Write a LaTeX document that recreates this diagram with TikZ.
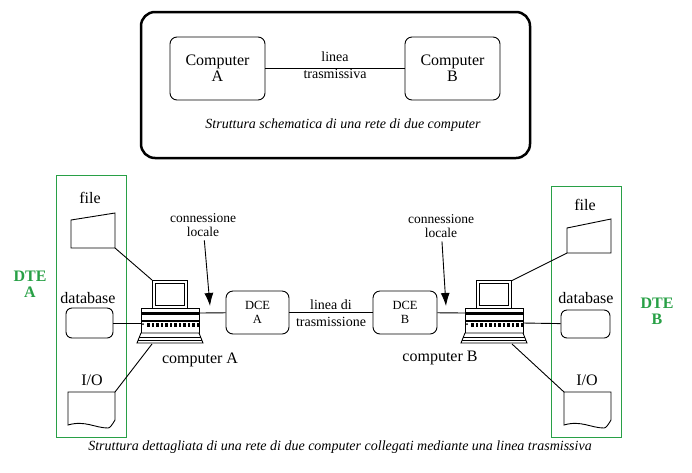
\documentclass[tikz,border=0pt]{standalone}
\usepackage{fontspec}
\setmainfont{Liberation Serif}
\usetikzlibrary{arrows.meta}
\definecolor{gr}{RGB}{40,160,70}
\begin{document}
\begin{tikzpicture}[x=1pt,y=-1pt,line width=0.9pt,
  box/.style={draw,rounded corners=7pt,line width=0.9pt},
  green/.style={draw=gr,line width=0.9pt},
  dte/.style={text=gr,font=\bfseries\fontsize{16}{16}\selectfont,align=center},
  lbl/.style={font=\fontsize{16}{16}\selectfont,align=center},
  sm/.style={font=\fontsize{13.5}{14}\selectfont,align=center},
  capt/.style={font=\itshape\fontsize{14}{14}\selectfont},
  comp/.pic={
    \draw[fill=white] (-19,-25) rectangle (16,3);
    \draw (-16,-22) rectangle (13,0);
    \draw[fill=white] (-30,3) rectangle (28,28);
    \fill (-30,7) rectangle (28,10);
    \fill (-30,15) rectangle (28,17);
    \foreach \i in {0,...,11} \fill (-24+\i*4.5,18) rectangle ++(2.5,4);
    \fill (-28,19) circle (1);
    \draw[fill=white] (-30,28) -- (28,28) -- (32,38) -- (-34,38) -- cycle;
    \draw (-32,32) -- (30,32) (-33,35) -- (31,35);
  }]
\useasboundingbox (0,0) rectangle (692,472);
% top
\draw[line width=2.5pt,rounded corners=14pt] (141,12) rectangle (530,158);
\node[box,minimum width=95pt,minimum height=63pt,lbl] (ca) at (217.5,68.5) {Computer\\A};
\node[box,minimum width=95pt,minimum height=63pt,lbl] (cb) at (452.5,68.5) {Computer\\B};
\draw (ca) -- (cb);
\node[sm,font=\fontsize{14}{17}\selectfont] (tl) at (335,65) {linea\\trasmissiva};
\node[capt] (tc) at (343,125) {Struttura schematica di una rete di due computer};
% bottom
\draw[green] (56,175) rectangle (126,437);
\draw[green] (551,186) rectangle (621,437);
\node[dte] (da) at (30,284) {DTE\\A};
\node[dte] (db) at (657,311) {DTE\\B};
% computers
\pic (pa) at (171,305) {comp};
\pic (pb) at (495,305) {comp};
\coordinate (pamt) at (152,280); \coordinate (pabl) at (141,323);
\coordinate (pakb) at (152,344); \coordinate (par) at (199,313);
\coordinate (pbmt) at (511,281); \coordinate (pbr) at (523,323);
\coordinate (pbkb) at (512,344); \coordinate (pbl) at (465,313);
\node[lbl] (tca) at (200,360) {computer A};
\node[lbl] (tcb) at (440,358) {computer B};
% left devices
\node[lbl] (tfa) at (90,198) {file};
\draw (71,220) -- (115,213) -- (115,248) -- (71,248) -- cycle;
\coordinate (fa) at (115,248);
\node[lbl] (tdba) at (88,298) {database};
\node[draw,rounded corners=6pt,minimum width=47pt,minimum height=30pt] (dba) at (89.5,323) {};
\node[lbl] (tioa) at (92,380) {I/O};
\draw (68,392) -- (115,392) -- (115,420) .. controls (112,425) and (110,428) .. (108,428) .. controls (95,428) and (85,420) .. (68,425) -- cycle;
\coordinate (ioa) at (115,392);
% right devices
\node[lbl] (tfb) at (585,205) {file};
\draw (567,228) -- (611,219) -- (611,253) -- (567,253) -- cycle;
\coordinate (fb) at (567,253);
\node[lbl] (tdbb) at (586,298) {database};
\node[draw,rounded corners=6pt,minimum width=49pt,minimum height=28pt] (dbb) at (585.5,324) {};
\node[lbl] (tiob) at (587,380) {I/O};
\draw (564,392) -- (611,392) -- (611,420) .. controls (608,425) and (606,428) .. (604,428) .. controls (591,428) and (581,420) .. (564,425) -- cycle;
\coordinate (iob) at (564,392);
% connections
\draw (fa) -- (pamt); \draw (dba) -- (pabl); \draw (ioa) -- (pakb);
\draw (fb) -- (pbmt); \draw (dbb) -- (pbr); \draw (iob) -- (pbkb);
\node[box,minimum width=63pt,minimum height=43pt,sm,font=\fontsize{12.5}{14}\selectfont] (dcea) at (257.5,312.5) {DCE\\A};
\node[box,minimum width=64pt,minimum height=43pt,sm,font=\fontsize{12.5}{14}\selectfont] (dceb) at (405,312.5) {DCE\\B};
\draw (par) -- (dcea); \draw (dcea) -- (dceb); \draw (dceb) -- (pbl);
\node[sm,font=\fontsize{14}{17}\selectfont] (tlt) at (331,313) {linea di\\trasmissione};
\node[sm] (tcla) at (203,225) {connessione\\locale};
\coordinate (aa) at (210,306);
\draw[-{Latex[length=13pt,width=9pt]}] (tcla) -- (aa);
\node[sm] (tclb) at (441,226) {connessione\\locale};
\coordinate (ab) at (446,306);
\draw[-{Latex[length=13pt,width=9pt]}] (tclb) -- (ab);
\node[capt] (bc) at (340,447) {Struttura dettagliata di una rete di due computer collegati mediante una linea trasmissiva};
\end{tikzpicture}
\end{document}
